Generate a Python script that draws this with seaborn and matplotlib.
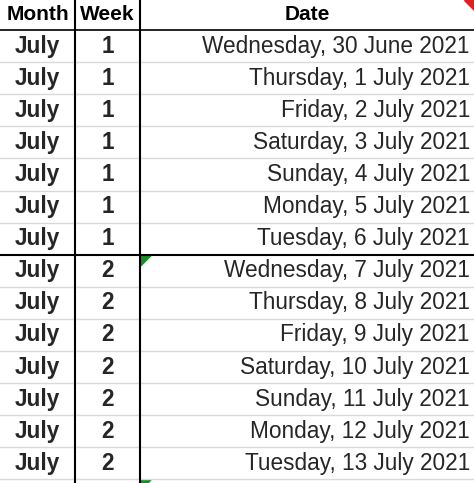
import seaborn as sns
import matplotlib.pyplot as plt
from matplotlib.patches import Polygon

sns.set_theme(style="white")
plt.rcParams['font.family'] = ['Liberation Sans', 'DejaVu Sans']

headers = ["Month", "Week", "Date"]
months = ["July"] * 14
weeks = [1, 1, 1, 1, 1, 1, 1, 2, 2, 2, 2, 2, 2, 2]
dates = ["Wednesday, 30 June 2021", "Thursday, 1 July 2021", "Friday, 2 July 2021",
         "Saturday, 3 July 2021", "Sunday, 4 July 2021", "Monday, 5 July 2021",
         "Tuesday, 6 July 2021", "Wednesday, 7 July 2021", "Thursday, 8 July 2021",
         "Friday, 9 July 2021", "Saturday, 10 July 2021", "Sunday, 11 July 2021",
         "Monday, 12 July 2021", "Tuesday, 13 July 2021"]

# column edges in pixels
col_x = [0, 75, 140, 474]
head_h = 30
row_h = 32.1

fig = plt.figure(figsize=(4.74, 4.83), dpi=100)
ax = fig.add_axes([0, 0, 1, 1])
ax.set_xlim(0, 474)
ax.set_ylim(483, 0)
ax.axis("off")

fs = 16.3
# header
for i, h in enumerate(headers):
    ax.text((col_x[i] + col_x[i + 1]) / 2, head_h / 2 - 1, h, ha="center", va="center",
            fontsize=15, fontweight="bold", color="black")
ax.plot([0, 474], [head_h, head_h], color="black", lw=1.2)

for r, (m, w, d) in enumerate(zip(months, weeks, dates)):
    yc = head_h + row_h * (r + 0.5)
    ax.text(37, yc, m, ha="center", va="center", fontsize=fs, fontweight="bold")
    ax.text(108, yc, str(w), ha="center", va="center", fontsize=fs, fontweight="bold")
    ax.text(470, yc, d, ha="right", va="center", fontsize=fs)
    yb = head_h + row_h * (r + 1)
    if r < len(dates) - 1 and weeks[r] != weeks[r + 1]:
        ax.plot([0, 474], [yb, yb], color="black", lw=1.5)
    else:
        ax.plot([0, 474], [yb, yb], color="#d9d9d9", lw=1)

for x in col_x[1:3]:
    ax.plot([x, x], [0, 483], color="black", lw=1.5)

# comment markers
ax.add_patch(Polygon([[464, 0], [474, 0], [474, 10]], color="#e02020"))
split_y = head_h + row_h * 7
for y in [split_y + 1, 480]:
    ax.add_patch(Polygon([[141, y], [151, y], [141, y + 10]], color="#1f8a2a"))

fig.savefig("out.png", dpi=100)
